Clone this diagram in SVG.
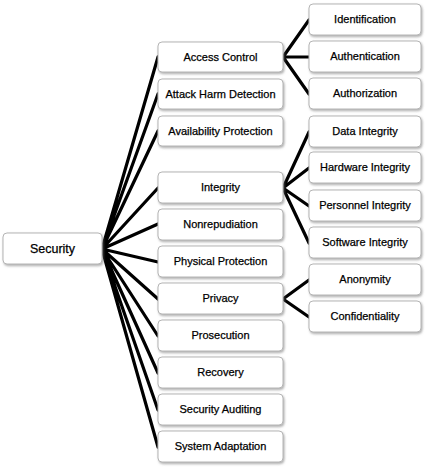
<svg xmlns="http://www.w3.org/2000/svg" width="425" height="467" viewBox="0 0 425 467">
<defs>
<filter id="sh" x="-10%" y="-20%" width="120%" height="150%">
<feDropShadow dx="1" dy="1.5" stdDeviation="1" flood-color="#777" flood-opacity="0.6"/>
</filter>
<style>
.b{fill:#fff;stroke:#b5b5b5;stroke-width:1;filter:url(#sh)}
.t{font-family:"Liberation Sans",Arial,sans-serif;font-size:11px;fill:#000;stroke:#000;stroke-width:0.25;text-anchor:middle}
.c{stroke:#000;stroke-width:3.2;fill:none;stroke-linecap:round}
</style>
</defs>
<rect width="425" height="467" fill="#fff"/>
<g id="connectors">
<path class="c" d="M102 249L158 57M102 249L158 94M102 249L158 131M102 249L158 188M102 249L158 224M102 249L158 262M102 249L158 299M102 249L158 336M102 249L158 373M102 249L158 410M102 249L158 447"/>
<path class="c" d="M283 57L309 20M283 57L309 57M283 57L309 94"/>
<path class="c" d="M283 188L309 132M283 188L309 168M283 188L309 206M283 188L309 243"/>
<path class="c" d="M283 299L309 280M283 299L309 317"/>
</g>
<g id="security"><rect class="b" x="3" y="233" width="99" height="31" rx="4"/><text class="t" x="52.5" y="253" style="font-size:12.5px">Security</text></g>
<g id="access-control"><rect class="b" x="158" y="42" width="125" height="30" rx="4"/><text class="t" x="220.5" y="61">Access Control</text></g>
<g id="attack-harm-detection"><rect class="b" x="158" y="79" width="125" height="30" rx="4"/><text class="t" x="220.5" y="98">Attack Harm Detection</text></g>
<g id="availability-protection"><rect class="b" x="158" y="116" width="125" height="30" rx="4"/><text class="t" x="220.5" y="135">Availability Protection</text></g>
<g id="integrity"><rect class="b" x="158" y="172" width="125" height="31" rx="4"/><text class="t" x="220.5" y="191">Integrity</text></g>
<g id="nonrepudiation"><rect class="b" x="158" y="209" width="125" height="31" rx="4"/><text class="t" x="220.5" y="228">Nonrepudiation</text></g>
<g id="physical-protection"><rect class="b" x="158" y="246" width="125" height="31" rx="4"/><text class="t" x="220.5" y="265">Physical Protection</text></g>
<g id="privacy"><rect class="b" x="158" y="283" width="125" height="31" rx="4"/><text class="t" x="220.5" y="302">Privacy</text></g>
<g id="prosecution"><rect class="b" x="158" y="320" width="125" height="31" rx="4"/><text class="t" x="220.5" y="339">Prosecution</text></g>
<g id="recovery"><rect class="b" x="158" y="357" width="125" height="31" rx="4"/><text class="t" x="220.5" y="376">Recovery</text></g>
<g id="security-auditing"><rect class="b" x="158" y="394" width="125" height="31" rx="4"/><text class="t" x="220.5" y="413">Security Auditing</text></g>
<g id="system-adaptation"><rect class="b" x="158" y="431" width="125" height="31" rx="4"/><text class="t" x="220.5" y="450">System Adaptation</text></g>
<g id="identification"><rect class="b" x="309" y="4" width="112" height="31" rx="4"/><text class="t" x="365" y="23">Identification</text></g>
<g id="authentication"><rect class="b" x="309" y="41" width="112" height="31" rx="4"/><text class="t" x="365" y="60">Authentication</text></g>
<g id="authorization"><rect class="b" x="309" y="78" width="112" height="31" rx="4"/><text class="t" x="365" y="97">Authorization</text></g>
<g id="data-integrity"><rect class="b" x="309" y="116" width="112" height="31" rx="4"/><text class="t" x="365" y="135">Data Integrity</text></g>
<g id="hardware-integrity"><rect class="b" x="309" y="152" width="112" height="31" rx="4"/><text class="t" x="365" y="171">Hardware  Integrity</text></g>
<g id="personnel-integrity"><rect class="b" x="309" y="190" width="112" height="31" rx="4"/><text class="t" x="365" y="209">Personnel Integrity</text></g>
<g id="software-integrity"><rect class="b" x="309" y="227" width="112" height="31" rx="4"/><text class="t" x="365" y="246">Software  Integrity</text></g>
<g id="anonymity"><rect class="b" x="309" y="264" width="112" height="31" rx="4"/><text class="t" x="365" y="283">Anonymity</text></g>
<g id="confidentiality"><rect class="b" x="309" y="301" width="112" height="31" rx="4"/><text class="t" x="365" y="320">Confidentiality</text></g>
</svg>
